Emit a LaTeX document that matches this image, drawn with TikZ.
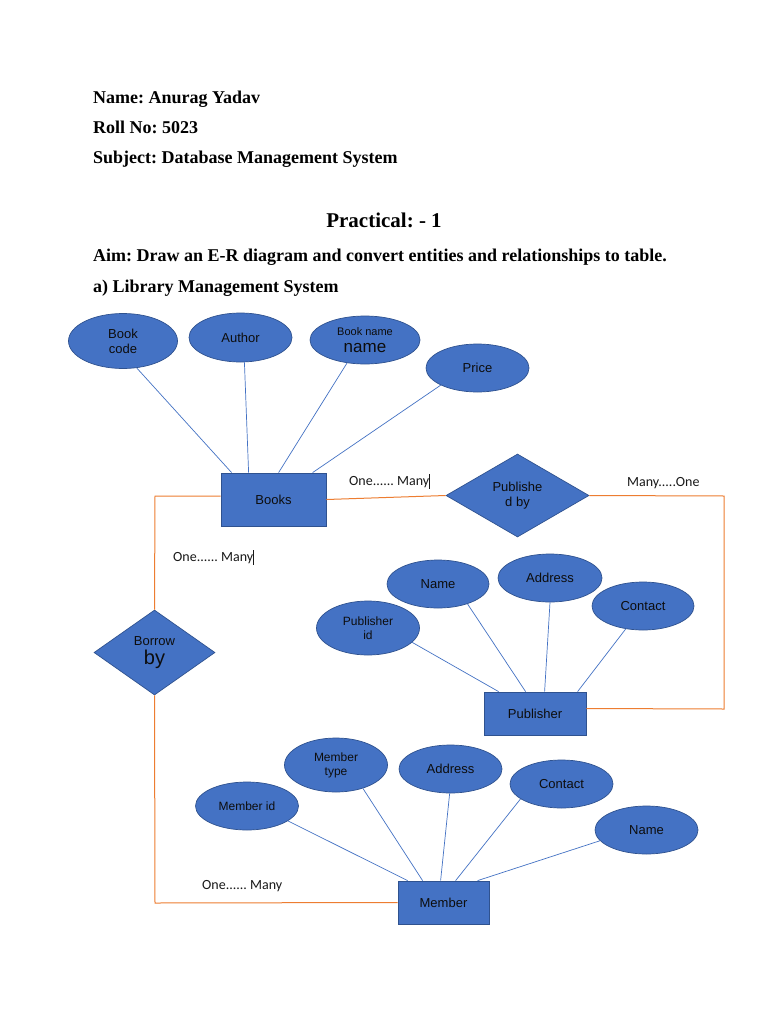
\documentclass[tikz,border=0pt]{standalone}
\usepackage{fontspec}
\setmainfont{Liberation Serif}
\newfontfamily\arialf{Liberation Sans}
\newfontfamily\calibf{Carlito}
\usetikzlibrary{shapes.geometric}
\definecolor{boxblue}{HTML}{4472C4}
\definecolor{boxedge}{HTML}{2F528F}
\definecolor{lineblue}{HTML}{4472C4}
\definecolor{relorange}{HTML}{ED7D31}
\newcommand{\fs}[1]{\fontsize{#1}{#1}\selectfont}
\newcommand{\caret}{\rule[-3pt]{0.6pt}{15pt}}
\frenchspacing
\begin{document}
\begin{tikzpicture}[x=1pt,y=-1pt,
  attr/.style={ellipse, fill=boxblue, draw=boxedge, line width=0.7pt,
    minimum width=103pt, minimum height=48pt, inner sep=0pt, align=center,
    font=\arialf\fs{13}, text=black!95},
  entity/.style={rectangle, fill=boxblue, draw=boxedge, line width=0.8pt,
    inner sep=0pt, font=\arialf\fs{13}, text=black!95},
  rel/.style={diamond, fill=boxblue, draw=boxedge, line width=0.7pt,
    inner sep=0pt, align=center, font=\arialf\fs{13}, text=black!95},
  attrline/.style={draw=lineblue, line width=0.7pt},
  relline/.style={draw=relorange, line width=1pt},
  lbl/.style={font=\calibf\fs{14}, anchor=west, inner sep=0pt, text=black!90},
  hdr/.style={font=\bfseries\fs{18}, anchor=base west, inner sep=0pt}]
\useasboundingbox[fill=white] (0,0) rectangle (768,1024);

% header
\node[hdr] (h1) at (93,104) {Name: Anurag Yadav};
\node[hdr] (h2) at (93,134) {Roll No: 5023};
\node[hdr] (h3) at (93,164) {Subject: Database Management System};
\node[hdr, anchor=base, font=\bfseries\fs{21}] (h4) at (384,228) {Practical: - 1};
\node[hdr] (h5) at (93,261) {Aim: Draw an E-R diagram and convert entities and relationships to table.};
\node[hdr] (h6) at (93,292) {a) Library Management System};

% entities
\node[entity, minimum width=105pt, minimum height=53pt] (books) at (273.5,499.5) {Books};
\node[entity, minimum width=102pt, minimum height=43pt] (publisher) at (535,713.5) {Publisher};
\node[entity, minimum width=91pt, minimum height=43pt] (member) at (443.5,902.5) {Member};

% relationships
\node[rel, minimum width=143pt, minimum height=83pt, aspect=1.72] (pubby) at (517.5,495.5) {Publishe\\[2pt]d by};
\node[rel, minimum width=121pt, minimum height=85pt, aspect=1.42] (borrow) at (154.5,652.5) {{\fs{13}Borrow}\\[4pt]{\fs{20}by}};

% book attributes
\node[attr, minimum width=109pt, minimum height=55pt] (bcode) at (123,341) {Book\\[2pt]code};
\node[attr, minimum height=49pt] (author) at (240.5,337.5) {Author};
\node[attr, minimum width=110pt] (bname) at (365,340) {{\fs{11}Book name}\\[4pt]{\fs{17}name}};
\node[attr] (price) at (477.5,368) {Price};

% publisher attributes
\node[attr, minimum height=54pt] (pid) at (368,628) {{\fs{12}Publisher}\\[1pt]{\fs{12}id}};
\node[attr, minimum width=102pt] (pname) at (438,584) {Name};
\node[attr, minimum width=104pt] (paddr) at (550,578) {Address};
\node[attr, minimum width=102pt] (pcontact) at (643,606) {Contact};

% member attributes
\node[attr] (mid) at (247,806) {{\fs{12}Member id}};
\node[attr, minimum height=54pt] (mtype) at (336,765) {{\fs{12}Member}\\[1pt]{\fs{12}type}};
\node[attr] (maddr) at (450.5,769) {Address};
\node[attr] (mcontact) at (561.5,784) {Contact};
\node[attr] (mname) at (646.5,830) {Name};

% attribute lines
\draw[attrline] (bcode.-63) -- ([xshift=11pt]books.north west);
\draw[attrline] (author.-81) -- ([xshift=28pt]books.north west);
\draw[attrline] (bname.-128) -- ([xshift=58pt]books.north west);
\draw[attrline] (price.-155) -- ([xshift=92pt]books.north west);

\draw[attrline] (pid.-18) -- ([xshift=15pt]publisher.north west);
\draw[attrline] (pname.-34) -- ([xshift=42pt]publisher.north west);
\draw[attrline] (paddr.-90) -- ([xshift=61pt]publisher.north west);
\draw[attrline] (pcontact.-127) -- ([xshift=94pt]publisher.north west);

\draw[attrline] (mid.-20) -- ([xshift=10pt]member.north west);
\draw[attrline] (mtype.-41) -- ([xshift=25pt]member.north west);
\draw[attrline] (maddr.-92) -- ([xshift=43pt]member.north west);
\draw[attrline] (mcontact.-160) -- ([xshift=58pt]member.north west);
\draw[attrline] (mname.-167) -- ([xshift=80pt]member.north west);

% relationship lines
\coordinate (c1) at (724,496);
\coordinate (c2) at (724,709);
\coordinate (c3) at (155,496);
\coordinate (c4) at (155,903);
\draw[relline] (books.east) -- (pubby.west);
\draw[relline] (pubby.east) -- (c1) -- (c2) -- ([yshift=5pt]publisher.east);
\draw[relline] ([yshift=3.5pt]books.west) -- (c3) -- (borrow.north);
\draw[relline] (borrow.south) -- (c4) -- (member.west);

% cardinality labels
\node[lbl] (l1) at (349,481) {One...... Many\caret};
\node[lbl] (l2) at (627,483) {Many.....One};
\node[lbl] (l3) at (173,557) {One...... Many\caret};
\node[lbl] (l4) at (202,886) {One...... Many};
\end{tikzpicture}
\end{document}
